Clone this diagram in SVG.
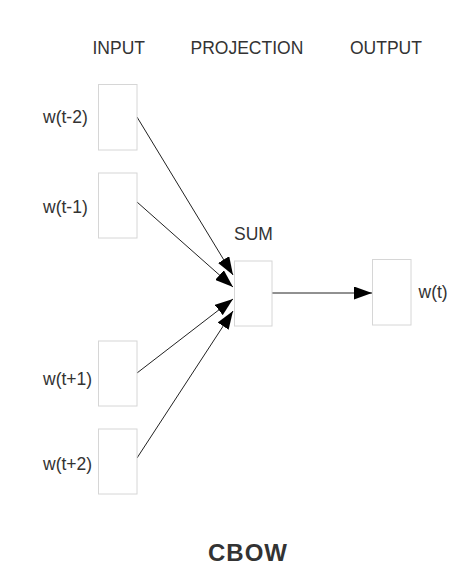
<svg xmlns="http://www.w3.org/2000/svg" width="474" height="578" viewBox="0 0 474 578">
<style>
.box{fill:#fff;stroke:#d6d6d6;stroke-width:1}
.lbl{font-family:"Liberation Sans",Arial,sans-serif;font-size:17.5px;fill:#333}
.title{font-family:"Liberation Sans",Arial,sans-serif;font-size:24px;font-weight:bold;fill:#333;letter-spacing:1px}
.edge{stroke:#222;stroke-width:1;fill:none;marker-end:url(#arr)}
</style>
<defs>
<marker id="arr" markerUnits="userSpaceOnUse" markerWidth="18" markerHeight="13" refX="18" refY="6.5" orient="auto">
<path d="M0,0 L18,6.5 L0,13 z" fill="#000"/>
</marker>
</defs>
<rect width="474" height="578" fill="#fff"/>
<g id="headers">
<text class="lbl" x="92.5" y="54">INPUT</text>
<text class="lbl" x="190.5" y="54">PROJECTION</text>
<text class="lbl" x="350" y="54">OUTPUT</text>
</g>
<g id="connectors">
<line class="edge" x1="137" y1="117" x2="233" y2="275"/>
<line class="edge" x1="137" y1="202" x2="233" y2="287"/>
<line class="edge" x1="137" y1="373" x2="233" y2="299"/>
<line class="edge" x1="137" y1="458" x2="233" y2="311"/>
<line class="edge" x1="272" y1="293" x2="372" y2="293"/>
</g>
<g id="w_t-2">
<rect class="box" x="98.5" y="84.5" width="38.5" height="65.5"/>
<text class="lbl" x="43" y="123">w(t-2)</text>
</g>
<g id="w_t-1">
<rect class="box" x="98.5" y="173" width="38.5" height="65"/>
<text class="lbl" x="43" y="213">w(t-1)</text>
</g>
<g id="w_t+1">
<rect class="box" x="98.5" y="341" width="38.5" height="65"/>
<text class="lbl" x="43" y="385">w(t+1)</text>
</g>
<g id="w_t+2">
<rect class="box" x="98.5" y="429" width="38.5" height="65"/>
<text class="lbl" x="43" y="470">w(t+2)</text>
</g>
<g id="sum">
<rect class="box" x="234.5" y="261" width="37.5" height="65"/>
<text class="lbl" x="234" y="239.5">SUM</text>
</g>
<g id="w_t">
<rect class="box" x="372.5" y="259.5" width="38.5" height="65.5"/>
<text class="lbl" x="418.5" y="298">w(t)</text>
</g>
<text class="title" x="208" y="561">CBOW</text>
</svg>
